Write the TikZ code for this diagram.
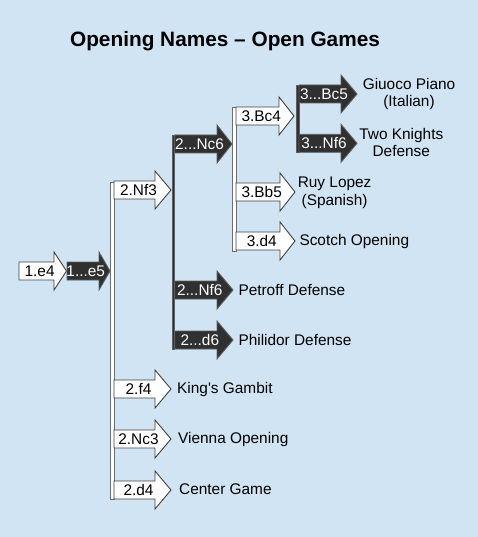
\documentclass[tikz,border=0pt]{standalone}
\usepackage{fontspec}
\setmainfont{Liberation Sans}
\definecolor{bg}{RGB}{208,228,243}
\definecolor{darkfill}{RGB}{48,48,48}
\definecolor{wedge}{RGB}{64,64,64}
\definecolor{bedge}{RGB}{95,95,95}
\definecolor{baredge}{RGB}{110,110,110}
\tikzset{
  warrow/.style={fill=white, draw=wedge, line width=0.9pt, line join=miter},
  barrow/.style={fill=darkfill, draw=bedge, line width=0.9pt, line join=miter},
  wtext/.style={font=\fontsize{15.4}{18}\selectfont, text=black, inner sep=0pt, anchor=base},
  btext/.style={wtext, text=white},
  wbar/.style={fill=white, draw=baredge, line width=0.9pt},
  bbar/.style={fill=darkfill, draw=bedge, line width=0.7pt},
  lbl/.style={font=\fontsize{15.4}{17.4}\selectfont, text=black, inner sep=0pt},
  ttl/.style={font=\bfseries\fontsize{20.8}{24}\selectfont, text=black, inner sep=0pt, anchor=base}
}
% name, kind (w/b), left x, centre y, head base x, tip x, text
\newcommand\mvarrow[7]{%
  \draw[#2arrow] (#3,#4-9) -- (#5,#4-9) -- (#5,#4-19) -- (#6,#4) -- (#5,#4+19) -- (#5,#4+9) -- (#3,#4+9) -- cycle;
  \node[#2text] (#1) at ({(#3+(#5+#6)/2)/2},#4+5.5) {#7};
}
\begin{document}
\begin{tikzpicture}[x=1pt,y=-1pt]
  \fill[bg] (0,0) rectangle (478,537);
  \useasboundingbox (0,0) rectangle (478,537);

  \node[ttl] (title) at (225,46.7) {Opening Names \textendash{} Open Games};

  % bars
  \draw[wbar] (110,182) rectangle (114,499);
  \draw[bbar] (172.2,135) rectangle (174.6,349);
  \draw[wbar] (232,107) rectangle (236,251);
  \draw[bbar] (296.8,85) rectangle (299,152);

  % first moves
  \mvarrow{e4}{w}{19}{271}{54}{66.5}{1.e4}
  \mvarrow{e5}{b}{67}{271}{99}{110}{1...e5}

  % second moves (white)
  \mvarrow{Nf3}{w}{114}{190}{155}{171}{2.Nf3}
  \mvarrow{f4}{w}{114}{389}{155}{171}{2.f4}
  \mvarrow{Nc3}{w}{114}{439}{155}{171}{2.Nc3}
  \mvarrow{d4}{w}{114}{490}{155}{171}{2.d4}

  % second moves (black)
  \mvarrow{Nc6}{b}{174.6}{144}{217}{232}{2...Nc6}
  \mvarrow{Nf6}{b}{174.6}{290}{217}{233}{2...Nf6}
  \mvarrow{d6}{b}{174.6}{340}{217}{233}{2...d6}

  % third moves (white)
  \mvarrow{Bc4}{w}{236}{116}{279}{294}{3.Bc4}
  \mvarrow{Bb5}{w}{236}{192}{280}{295}{3.Bb5}
  \mvarrow{dd4}{w}{236}{241}{280}{295}{3.d4}

  % third moves (black)
  \mvarrow{Bc5}{b}{299}{94}{341}{357}{3...Bc5}
  \mvarrow{Nf6b}{b}{299}{143.3}{341}{357}{3...Nf6}

  % opening names
  \node[lbl, anchor=north, align=center] (giuoco) at (409,78) {Giuoco Piano\\(Italian)};
  \node[lbl, anchor=north, align=center] (twoknights) at (401.3,128) {Two Knights\\Defense};
  \node[lbl, anchor=north, align=center] (ruy) at (334.6,177.2) {Ruy Lopez\\(Spanish)};
  \node[lbl, anchor=base west] (scotch) at (299.3,245.7) {Scotch Opening};
  \node[lbl, anchor=base west] (petroff) at (238.3,295) {Petroff Defense};
  \node[lbl, anchor=base west] (philidor) at (238.3,345) {Philidor Defense};
  \node[lbl, anchor=base west] (kings) at (177,393.5) {King\textquotesingle s Gambit};
  \node[lbl, anchor=base west] (vienna) at (178,443.5) {Vienna Opening};
  \node[lbl, anchor=base west] (center) at (179,494.5) {Center Game};
\end{tikzpicture}
\end{document}
